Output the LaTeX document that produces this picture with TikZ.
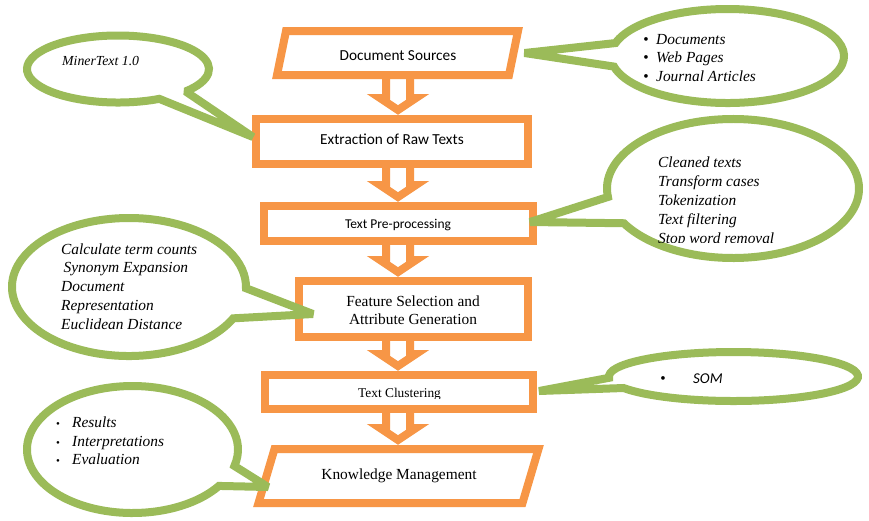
\documentclass[tikz,border=0pt]{standalone}
\usepackage{fontspec}
\setmainfont{Liberation Serif}
\newfontfamily\calibri{Carlito}
\usetikzlibrary{calc}
\definecolor{org}{HTML}{F79646}
\definecolor{grn}{HTML}{9BBB59}
\newcommand\blockarrow[2]{%
  \path (#1.south -| axis) coordinate (#1-#2-s) (#2.north -| axis) coordinate (#1-#2-e);
  \draw[barrow] ($(#1-#2-s)+(-12,0)$) -- ($(#1-#2-e)+(-12,-21)$) -- ($(#1-#2-e)+(-18,-21)$)
    -- ($(#1-#2-e)+(0,-9)$) -- ($(#1-#2-e)+(18,-21)$) -- ($(#1-#2-e)+(12,-21)$) -- ($(#1-#2-s)+(12,0)$);}
\newcommand\callout[7]{%
  \draw[callout] ({#1+#3*cos(#5)},{#2+#4*sin(#5)}) arc[start angle=#5, end angle=#6, x radius=#3, y radius=#4] -- (#7) -- cycle;}
\begin{document}
\begin{tikzpicture}[x=1pt,y=-1pt,
  ghost/.style={inner sep=0pt,outer sep=0pt,rectangle},
  boxline/.style={draw=org,line width=8pt,fill=white,line join=miter},
  barrow/.style={draw=org,line width=8pt,fill=white,line join=miter},
  callout/.style={draw=grn,line width=8pt,fill=white,line join=miter,miter limit=2},
  calb/.style={anchor=base,inner sep=0pt,font=\calibri\fontsize{15.3}{18}\selectfont},
  tms/.style={anchor=base,inner sep=0pt,font=\fontsize{15.4}{18}\selectfont},
  note/.style={anchor=base west,inner sep=0pt,font=\itshape\fontsize{15.4}{18}\selectfont},
  bul/.style={anchor=base,inner sep=0pt,font=\fontsize{15.4}{18}\selectfont}]
\fill[white] (0,0) rectangle (869,520);
\useasboundingbox (0,0) rectangle (869,520);
\coordinate (axis) at (398,0);
% box frames (named)
\node[ghost,minimum width=232pt,minimum height=44pt] (ds) at (397.5,53) {};
\node[ghost,minimum width=272pt,minimum height=45pt] (ext) at (392,141.5) {};
\node[ghost,minimum width=269pt,minimum height=35pt] (pre) at (398.5,223.5) {};
\node[ghost,minimum width=229pt,minimum height=56pt] (feat) at (413.5,309) {};
\node[ghost,minimum width=268pt,minimum height=34pt] (clus) at (399,392) {};
\node[ghost,minimum width=264pt,minimum height=54pt] (km) at (398.5,476) {};
% block arrows
\blockarrow{ds}{ext}
\blockarrow{ext}{pre}
\blockarrow{pre}{feat}
\blockarrow{feat}{clus}
\blockarrow{clus}{km}
% boxes
\draw[boxline] ($(ds.north west)+(4.5,0)$) -- ($(ds.north east)+(4.5,0)$) -- ($(ds.south east)+(-4.5,0)$) -- ($(ds.south west)+(-4.5,0)$) -- cycle;
\draw[boxline] (ext.north west) rectangle (ext.south east);
\draw[boxline] (pre.north west) rectangle (pre.south east);
\draw[boxline] (feat.north west) rectangle (feat.south east);
\draw[boxline] (clus.north west) rectangle (clus.south east);
\draw[boxline] ($(km.north west)+(8,0)$) -- ($(km.north east)+(8,0)$) -- ($(km.south east)+(-8,0)$) -- ($(km.south west)+(-8,0)$) -- cycle;
% callout tips
\coordinate (tip1) at ($(ext.west)+(-3,-4.5)$);
\coordinate (tip2) at ($(ds.east)+(11,0)$);
\coordinate (tip3) at ($(pre.east)+(-3,-1.5)$);
\coordinate (tip4) at ($(feat.west)+(14,5)$);
\coordinate (tip5) at ($(clus.east)+(6,-1)$);
\coordinate (tip6) at ($(km.west)+(1.5,11)$);
% callouts
\callout{118}{69}{91}{33.5}{63}{402}{tip1}
\callout{727.5}{56}{116.5}{47}{196}{527}{tip2}
\callout{733}{188.5}{126}{69.5}{173}{510}{tip3}
\callout{129}{287}{117}{69}{27}{361}{tip4}
\callout{733.5}{376.5}{124.5}{24.5}{177}{512}{tip5}
\callout{132.5}{449.5}{105.5}{63.5}{35}{375}{tip6}
% box texts
\node[calb] (ds-t) at (398,60) {Document Sources};
\node[calb] (ext-t) at (392,144.3) {Extraction of Raw Texts};
\begin{scope}
  \clip (pre.north west) rectangle ($(pre.east)+(0,7.5)$);
  \node[calb,font=\calibri\fontsize{13.5}{16}\selectfont] (pre-t) at (398,228.7) {Text Pre-processing};
\end{scope}
\node[tms] (feat-t1) at (413,306) {Feature Selection and};
\node[tms] (feat-t2) at (413,324) {Attribute Generation};
\begin{scope}
  \clip (clus.north west) rectangle ($(clus.east)+(0,6.5)$);
  \node[tms,font=\fontsize{13.4}{16}\selectfont] (clus-t) at (399.5,397.5) {Text Clustering};
\end{scope}
\node[tms] (km-t) at (399,479.3) {Knowledge Management};
% callout texts
\node[note,font=\itshape\fontsize{13.8}{16}\selectfont] (m1) at (62,65.7) {MinerText 1.0};
\begin{scope}
  \clip (600,0) rectangle (860,82);
  \node[bul] (b1) at (646,44) {•};
  \node[note] (d1) at (656,44) {Documents};
  \node[bul] (b2) at (646,62.5) {•};
  \node[note] (d2) at (656,62.5) {Web Pages};
  \node[bul] (b3) at (646,81) {•};
  \node[note] (d3) at (656,81) {Journal Articles};
\end{scope}
\begin{scope}
  \clip (600,120) rectangle (860,242);
  \node[note] (c1) at (658,167.3) {Cleaned texts};
  \node[note] (c2) at (658,186.3) {Transform cases};
  \node[note] (c3) at (658,205) {Tokenization};
  \node[note] (c4) at (658,224) {Text filtering};
  \node[note] (c5) at (658,243) {Stop word removal};
\end{scope}
\node[note] (f1) at (61,254) {Calculate term counts};
\node[note] (f2) at (63.5,272.7) {Synonym Expansion};
\node[note] (f3) at (61,291.3) {Document};
\node[note] (f4) at (61,310) {Representation};
\node[note] (f5) at (61,329) {Euclidean Distance};
\node[bul] (sb) at (663,383.3) {•};
\node[note,font=\calibri\itshape\fontsize{15}{18}\selectfont] (s1) at (693,383.3) {SOM};
\node[bul,font=\fontsize{11}{13}\selectfont] (rb1) at (58,427.3) {•};
\node[note] (r1) at (72,427.3) {Results};
\node[bul,font=\fontsize{11}{13}\selectfont] (rb2) at (58,446) {•};
\node[note] (r2) at (72,446) {Interpretations};
\node[bul,font=\fontsize{11}{13}\selectfont] (rb3) at (58,464.3) {•};
\node[note] (r3) at (72,464.3) {Evaluation};
\end{tikzpicture}
\end{document}
